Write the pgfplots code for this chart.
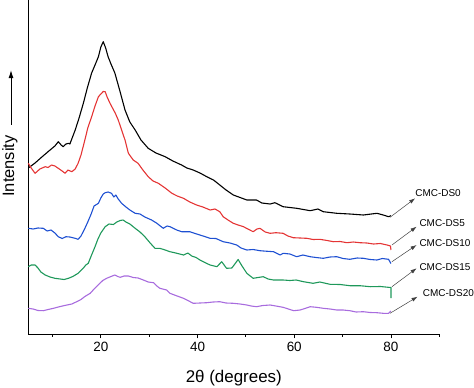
\documentclass[border=0pt]{standalone}
\usepackage{fontspec}
\setmainfont{Liberation Sans}
\usepackage{pgfplots}
\pgfplotsset{compat=1.18}
\usetikzlibrary{arrows.meta}
\definecolor{cblack}{RGB}{0,0,0}
\definecolor{cred}{RGB}{228,52,52}
\definecolor{cblue}{RGB}{30,80,210}
\definecolor{cgreen}{RGB}{30,152,90}
\definecolor{cpurple}{RGB}{168,108,222}
\begin{document}
\begin{tikzpicture}
\begin{axis}[
  name=ax,
  scale only axis,
  width=411bp, height=334bp,
  xmin=5, xmax=90, ymin=0, ymax=334,
  axis x line*=bottom, axis y line*=left,
  axis line style={line width=0.8pt},
  xtick={20,40,60,80},
  minor xtick={10,30,50,70,90},
  ytick=\empty,
  tick align=outside,
  major tick length=4.3bp, minor tick length=2.7bp,
  every tick/.style={line width=0.8pt, black},
  /pgf/number format/assume math mode=true,
  xticklabel style={font=\fontsize{13.5}{16}\selectfont},
  xlabel={2θ (degrees)},
  xlabel style={font=\fontsize{17}{20}\selectfont, at={(axis description cs:0.5,0)}, anchor=center, yshift=-44bp},
  clip=false,
  every axis plot/.append style={line width=1.1pt, line join=round},
]
% CMC-DS0
\addplot[cblack] coordinates {
(5.0,166)(6.4,171)(7.8,177)(9.5,184)(10.5,188)(11.2,192.3)(11.8,189)(12.2,187.3)(12.8,190)(13.3,190.7)(13.6,190)
(14.7,204)(15.5,216)(16.4,231)(17.2,246)(18.1,261)(18.8,269)(19.5,277.3)(20.0,287)(20.5,292.3)(21.0,286)(21.5,277.3)
(22.1,270)(22.9,261)(24.0,242)(25.0,224)(26.0,212)(27.1,204)(28.3,194)(29.8,185.7)(31.4,181)(33.3,177.3)(34.9,173)
(36.7,169)(37.8,166)(39.1,164)(40.5,161)(41.9,157.3)(43.3,154)(44.6,149)(45.9,144)(47.4,139)(48.8,136.5)(50.2,134)
(52.2,134)(53.3,131)(55.0,130)(56.0,131.3)(57.7,127.3)(60.5,125.7)(63.3,123.3)(64.9,125)(66.0,122.3)(68.8,120.7)
(71.5,120)(74.3,119)(77.1,120.7)(78.4,119)(79.5,117.3)(80.0,118.3)
};
% CMC-DS5
\addplot[cred] coordinates {
(5.0,170.7)(5.6,166)(6.4,160.7)(7.4,165)(8.5,167.3)(9.1,166.5)(9.8,169)(10.5,168)(11.2,165.7)(12.0,163)(12.6,160.7)
(13.2,164)(14.0,162.3)(14.7,165)(15.3,170.7)(15.9,179)(16.7,194)(17.3,206)(18.1,217.3)(18.8,228)(19.5,237.3)(20.0,240)
(20.5,242.5)(20.9,242.3)(21.3,237)(21.9,230.7)(23.0,220.7)(23.6,214)(24.3,204)(25.0,194)(25.7,180.7)(26.7,174)
(27.7,170.7)(28.7,164)(29.8,157.3)(30.8,153)(31.9,150.7)(33.3,146)(34.7,140.7)(35.8,138)(37.1,135.7)(38.4,132)
(39.8,129)(41.1,127)(42.6,124)(43.6,125)(44.6,122.3)(45.3,117.3)(46.3,114)(47.4,110.7)(48.4,109)(49.5,107.3)
(50.4,105)(51.5,102.3)(52.3,105)(52.9,105.7)(54.0,102)(55.0,100.7)(56.2,101.3)(57.7,100.7)(58.7,98)(59.8,96.3)
(61.2,96)(62.6,95.7)(63.9,94.5)(65.3,94.7)(66.8,93.5)(68.1,92.3)(69.5,92.5)(70.9,91.3)(72.2,92)(73.6,91.3)
(75.0,91)(76.4,90)(77.8,90.5)(79.2,89)(79.9,88)(80.0,84)
};
% CMC-DS10
\addplot[cblue] coordinates {
(5.0,105.7)(6.0,105)(7.0,106)(8.1,105.7)(8.9,103)(9.7,104)(10.5,101)(11.2,97.3)(12.0,95.5)(12.8,97.3)(13.6,97)
(14.7,95.7)(15.3,94.7)(15.9,98)(16.7,105.7)(17.3,112)(18.0,120)(18.6,128)(19.5,130.7)(20.0,136)(20.5,140)(20.9,141.3)
(21.5,142)(22.2,140.7)(22.7,137)(23.1,139)(23.6,135)(24.3,130.7)(25.2,127)(26.0,124)(27.1,120.7)(28.1,120)(29.1,117)
(30.5,114)(31.6,110.7)(32.9,105.7)(33.7,108)(34.3,107.3)(35.7,104)(36.7,102.3)(38.4,102.3)(39.5,100.5)(40.5,99)
(42.6,95.7)(43.8,95.5)(45.3,92.3)(46.7,91)(48.1,89)(49.0,86)(50.2,84)(51.5,84.5)(52.9,83.3)(54.2,82.8)(55.7,82.3)
(57.1,79)(57.7,80.7)(59.1,80)(60.5,77.3)(61.8,79)(63.3,77.3)(64.5,76.5)(66.0,75.7)(67.4,77)(68.8,77.3)(70.1,75.5)
(71.5,74.7)(73.0,76)(74.3,75.7)(75.7,74.5)(77.1,74)(78.2,75.5)(79.5,74.7)(80.0,70.5)
};
% CMC-DS15
\addplot[cgreen] coordinates {
(5.0,67.3)(5.6,69)(6.4,69)(7.0,66)(7.6,62)(8.5,59)(9.5,57)(10.5,55.7)(11.6,55)(12.4,54.5)(13.3,55.7)(14.2,57.5)
(15.3,60.7)(16.4,66)(16.9,69)(17.4,70.7)(18.0,78)(18.8,87.3)(19.4,95)(20.0,101)(20.9,107.3)(21.7,110)(22.6,109.5)
(23.3,112)(24.0,113.5)(24.6,114)(25.2,112)(26.0,110)(27.1,105.7)(28.1,102)(29.1,97.3)(30.2,91)(31.2,85.7)(32.2,85.7)
(33.3,84)(34.3,82.3)(35.5,81)(37.1,79)(38.0,81)(38.8,78)(39.7,76.5)(40.5,74)(41.5,71.5)(42.6,69)(44.0,67.3)(45.0,72.3)
(46.0,65.7)(47.1,66)(48.4,74.5)(49.2,68)(50.2,60.7)(51.5,55.7)(52.5,56.5)(53.6,57.3)(54.6,55)(55.7,54)(57.1,54)
(57.7,54)(59.1,53.5)(60.4,54)(61.9,52.3)(63.9,50.7)(65.3,52)(67.4,49.7)(69.5,49.5)(71.5,48.3)(73.6,48.3)(75.7,47.3)
(77.8,47.5)(79.5,46.7)(80.0,46.7)(80.0,36)
};
% CMC-DS20
\addplot[cpurple] coordinates {
(5.0,25.7)(6.0,25)(7.0,23.5)(8.1,23.3)(9.1,24.5)(10.2,25.7)(11.6,27.5)(13.0,29)(14.0,30)(15.0,32.3)(15.9,34.5)
(16.7,37.5)(17.8,40.7)(18.8,46)(19.8,50.7)(20.4,53.5)(21.2,55.7)(22.1,57.5)(22.9,59)(23.5,57.5)(24.0,56.7)(24.8,58)
(25.7,58)(26.7,56.5)(27.7,56)(28.8,54)(29.8,52)(30.9,51.3)(31.6,48)(32.2,45.7)(33.6,44)(34.3,40.7)(35.5,38.5)
(37.1,35.7)(38.0,33.5)(39.1,30.7)(40.5,31)(41.9,31.3)(43.2,32)(44.6,32.3)(45.9,31)(47.4,30.7)(48.8,30)(50.2,29)
(51.1,28)(52.2,27.3)(53.5,28.5)(55.0,29)(56.2,28)(57.7,26.7)(59.1,24.5)(59.9,23.3)(61.2,24)(62.2,25.5)(63.3,27.3)
(64.6,26.7)(66.0,25.7)(67.4,25)(68.8,24)(70.1,24)(71.5,23.3)(72.8,22)(74.3,22.3)(75.7,21.5)(77.1,21.3)(78.4,20.7)
(79.5,20.7)(80.0,23)
};
% annotations
\begin{scope}[every node/.style={font=\fontsize{10}{12}\selectfont, anchor=west, inner sep=0pt}]
\node at (axis cs:85.0,141.3) {CMC-DS0};
\node at (axis cs:85.87,111.3) {CMC-DS5};
\node at (axis cs:85.87,91.3) {CMC-DS10};
\node at (axis cs:85.87,66.7) {CMC-DS15};
\node at (axis cs:86.57,41.3) {CMC-DS20};
\end{scope}
\begin{scope}[line width=0.5pt, draw=black!75, -{Latex[length=6bp,width=4bp]}]
\draw (axis cs:79.8,116.7) -- (axis cs:85.0,135.7);
\draw (axis cs:80.2,89) -- (axis cs:85.3,107.3);
\draw (axis cs:80.2,72.3) -- (axis cs:85.3,89);
\draw (axis cs:80.2,47.3) -- (axis cs:85.3,65.7);
\draw (axis cs:79.8,20.7) -- (axis cs:85.5,37.3);
\end{scope}
% y label with arrow
\node[rotate=90, font=\fontsize{16.5}{19}\selectfont, inner sep=0pt] at ([xshift=-18.3bp]axis description cs:0,0.503) {Intensity};
\draw[line width=0.9pt, -{Latex[length=8bp,width=5bp]}] ([xshift=-17.3bp]axis description cs:0,0.626) -- ([xshift=-17.3bp]axis description cs:0,0.790);
\end{axis}
\pgfresetboundingbox
\path ([xshift=-28.3bp,yshift=-53bp]ax.south west) rectangle ([xshift=34.7bp]ax.north east);
\end{tikzpicture}
\end{document}
